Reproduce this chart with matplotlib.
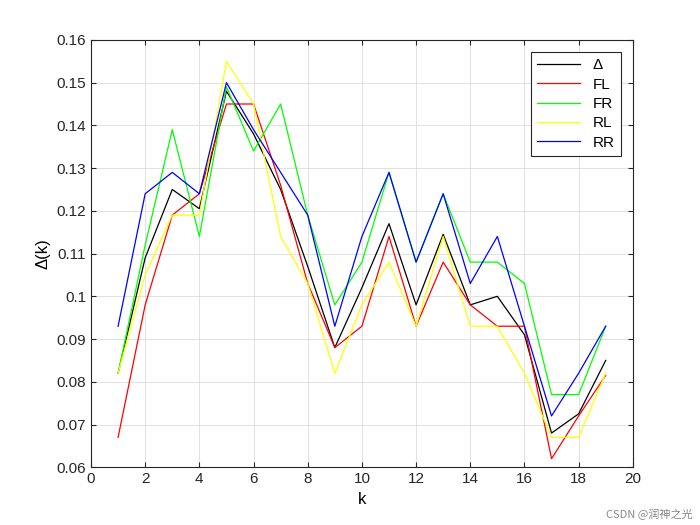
import numpy as np
import matplotlib.pyplot as plt

k = np.arange(1, 20)
delta = [0.082, 0.109, 0.125, 0.1205, 0.148, 0.138, 0.125, 0.107, 0.088, 0.102,
         0.117, 0.098, 0.1145, 0.098, 0.100, 0.091, 0.068, 0.0725, 0.085]
fl = [0.067, 0.098, 0.119, 0.124, 0.145, 0.145, 0.126, 0.103, 0.088, 0.093,
      0.114, 0.093, 0.108, 0.098, 0.093, 0.093, 0.062, 0.072, 0.0815]
fr = [0.082, 0.112, 0.139, 0.114, 0.149, 0.134, 0.145, 0.119, 0.098, 0.108,
      0.129, 0.108, 0.124, 0.108, 0.108, 0.103, 0.077, 0.077, 0.093]
rl = [0.082, 0.105, 0.119, 0.119, 0.155, 0.145, 0.114, 0.103, 0.082, 0.098,
      0.108, 0.093, 0.114, 0.093, 0.093, 0.082, 0.067, 0.067, 0.082]
rr = [0.093, 0.124, 0.129, 0.124, 0.150, 0.139, 0.129, 0.119, 0.093, 0.114,
      0.129, 0.108, 0.124, 0.103, 0.114, 0.093, 0.072, 0.082, 0.093]

plt.rcParams['font.family'] = ['Liberation Sans', 'DejaVu Sans']
fig = plt.figure(figsize=(7, 5.25), dpi=100)
ax = fig.add_axes([0.13, 0.11, 0.774, 0.814])
lw = 0.9
ax.plot(k, delta, color='k', lw=lw, label='Δ')
ax.plot(k, fl, color='r', lw=lw, label='FL')
ax.plot(k, fr, color='#00ff00', lw=lw, label='FR')
ax.plot(k, rl, color='#ffff00', lw=lw, label='RL')
ax.plot(k, rr, color='b', lw=lw, label='RR')

ax.set_xlim(0, 20)
ax.set_ylim(0.06, 0.16)
ax.set_xticks(np.arange(0, 21, 2))
ax.set_yticks(np.arange(0.06, 0.161, 0.01))
ax.set_yticklabels(['0.06', '0.07', '0.08', '0.09', '0.1', '0.11', '0.12',
                    '0.13', '0.14', '0.15', '0.16'])
ax.grid(True, color='#dcdcdc', lw=0.6)
ax.tick_params(direction='in', top=True, right=True, labelsize=11, colors='#262626')
for s in ax.spines.values():
    s.set_color('#262626')
ax.set_xlabel('k', fontsize=12)
ax.set_ylabel('Δ(k)', fontsize=12)
leg = ax.legend(loc='upper right', fontsize=11, fancybox=False, framealpha=1,
                edgecolor='#262626', borderaxespad=0.8, handlelength=2.8,
                labelspacing=0.35)
leg.get_frame().set_linewidth(0.8)
fig.text(0.99, 0.01, 'CSDN @润神之光', ha='right', va='bottom', fontsize=8,
         color='#888888', family=['Noto Sans CJK SC', 'DejaVu Sans'])
fig.savefig('out.png')
